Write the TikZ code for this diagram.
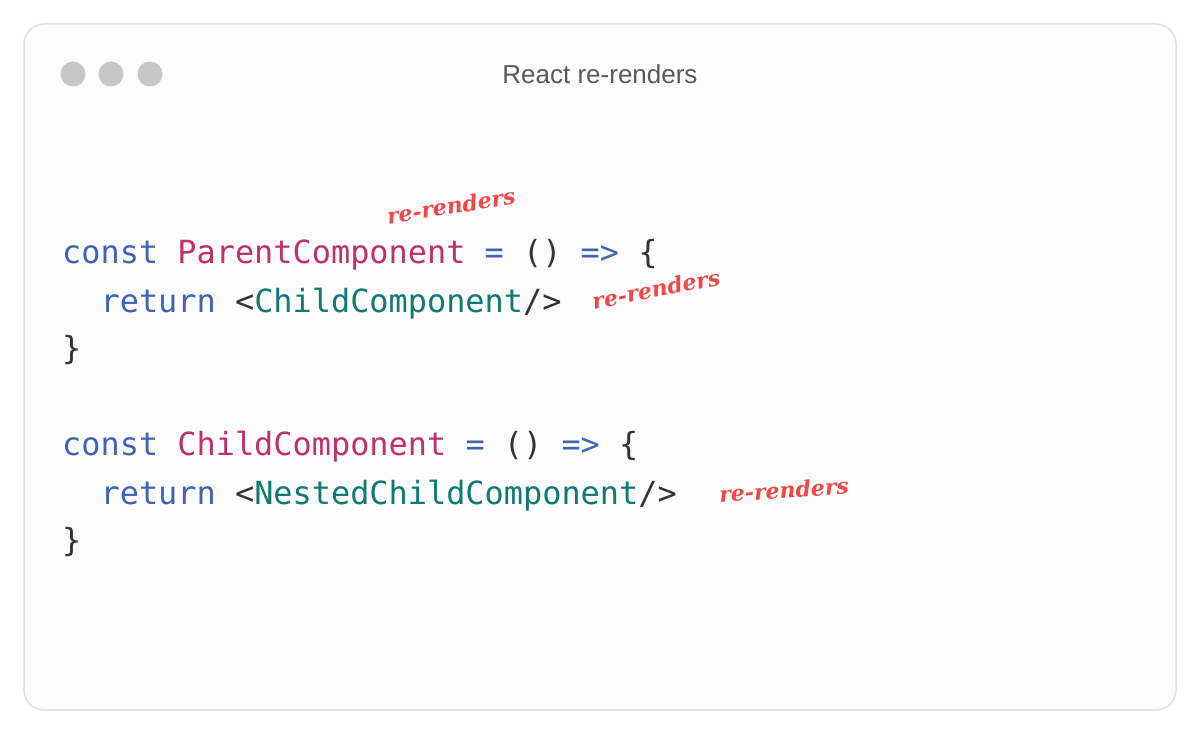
\documentclass[tikz,border=0pt]{standalone}
\usepackage{fontspec}
\setmainfont{Liberation Sans}
\newfontfamily\codefont{DejaVu Sans Mono}
\newfontfamily\handfont{DejaVu Serif}
\definecolor{kw}{HTML}{3F63B5}
\definecolor{pk}{HTML}{C0306A}
\definecolor{tl}{HTML}{0E7A72}
\definecolor{dk}{HTML}{333333}
\definecolor{rd}{HTML}{F04848}
\tikzset{
 code/.style={anchor=base west,inner sep=0pt,font=\codefont\fontsize{31.9}{32}\selectfont,text=dk},
 note/.style={inner sep=0pt,text=rd,font=\handfont\itshape\bfseries\fontsize{22}{22}\selectfont},
 dot/.style={circle,fill=black!22,minimum size=25pt,inner sep=0pt}
}
\begin{document}
\begin{tikzpicture}[x=1pt,y=-1pt]
\useasboundingbox (0,0) rectangle (1200,733);
\fill[white] (0,0) rectangle (1200,733);
\draw[draw=black!12,fill=black!1,line width=1.5pt,rounded corners=20pt] (24,24) rectangle (1176,710);
\node[dot] (d1) at (73,74) {};
\node[dot] (d2) at (111,74) {};
\node[dot] (d3) at (150,74) {};
\node[text=black!65,font=\fontsize{26}{26}\selectfont] (t) at (600,74) {React re-renders};
\node[code] (l1) at (62,263) {\textcolor{kw}{const} \textcolor{pk}{ParentComponent} \textcolor{kw}{=} () \textcolor{kw}{=>} \{};
\node[code] (l2) at (62,312) {\ \ \textcolor{kw}{return} <\textcolor{tl}{ChildComponent}/>};
\node[code] (l3) at (62,359) {\}};
\node[code] (l5) at (62,455) {\textcolor{kw}{const} \textcolor{pk}{ChildComponent} \textcolor{kw}{=} () \textcolor{kw}{=>} \{};
\node[code] (l6) at (62,504) {\ \ \textcolor{kw}{return} <\textcolor{tl}{NestedChildComponent}/>};
\node[code] (l7) at (62,551) {\}};
\node[note,rotate=9] (n1) at (451,206) {re-renders};
\node[note,rotate=11] (n2) at (656,289) {re-renders};
\node[note,rotate=4] (n3) at (784,490) {re-renders};
\end{tikzpicture}
\end{document}
